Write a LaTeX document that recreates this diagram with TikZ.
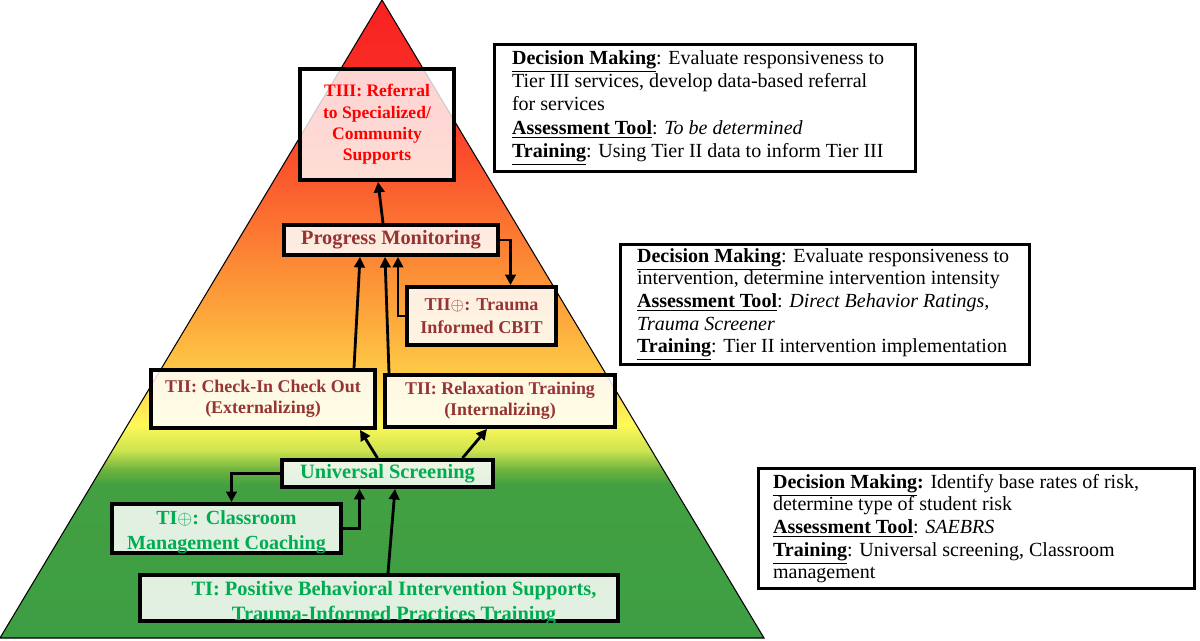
\documentclass[tikz,border=0pt]{standalone}
\usepackage{fontspec}
\setmainfont{Liberation Serif}
\usepackage{tikz}
\usetikzlibrary{arrows.meta,calc}

\definecolor{tiiired}{RGB}{255,0,0}
\definecolor{tiired}{RGB}{150,52,52}
\definecolor{tigreen}{RGB}{0,172,80}
\definecolor{pyrA}{RGB}{62,158,67}
\definecolor{pyrB}{RGB}{66,160,66}
\definecolor{pyrC}{RGB}{110,180,62}
\definecolor{pyrD}{RGB}{205,228,80}
\definecolor{pyrE}{RGB}{255,248,88}
\definecolor{pyrF}{RGB}{254,200,70}
\definecolor{pyrG}{RGB}{253,170,60}
\definecolor{pyrH}{RGB}{252,130,52}
\definecolor{pyrI}{RGB}{251,90,45}
\definecolor{pyrJ}{RGB}{250,50,40}
\definecolor{pyrK}{RGB}{248,32,32}

\pgfdeclareverticalshading{pyramid}{100bp}{color(0bp)=(pyrA); color(25bp)=(pyrA);
	color(37bp)=(pyrB); color(38.2bp)=(pyrC); color(39.7bp)=(pyrD); color(41.7bp)=(pyrE);
	color(46bp)=(pyrF); color(49.9bp)=(pyrG); color(55.4bp)=(pyrH); color(61bp)=(pyrI);
	color(67.2bp)=(pyrJ); color(75bp)=(pyrK); color(100bp)=(pyrK)}

\newcommand{\lbl}[1]{\underline{\textbf{#1}}}
% text block of a right box: width, indent, lines
\newcommand{\infotext}[3]{\begin{minipage}{#1}\leftskip=#2 #3\end{minipage}}
% text block of a tier box, pushed down a little: width, shift, lines
\newcommand{\tiertext}[3]{\begin{minipage}{#1}\centering #3\par\vspace*{#2}\end{minipage}}

\begin{document}
\begin{tikzpicture}[x=0.02cm,y=-0.02cm,
	tier/.style={draw=black,line width=2.2pt,fill=white,fill opacity=0.85,text opacity=1,inner sep=0pt,align=center,font=\bfseries},
	info/.style={draw=black,line width=1.7pt,fill=white,inner sep=0pt},
	arr/.style={line width=1.6pt,-{Triangle[length=6pt,width=6pt]}}]
	\useasboundingbox (0,0) rectangle (1200,640);
	% pyramid
	\coordinate (apex) at (382,0);
	\coordinate (bl) at (0,638);
	\coordinate (br) at (764,638);
	\shade[shading=pyramid] (apex) -- (bl) -- (br) -- cycle;
	\draw[line width=0.6pt] (apex) -- (bl) -- (br) -- cycle;

	% tier III
	\node[tier,fill opacity=0.8,minimum width=3.08cm,minimum height=2.22cm,text=tiiired,font=\bfseries\fontsize{10}{12.2}\selectfont] (tiii) at (377,124.5) {TIII: Referral\\to Specialized/\\Community\\Supports};

	% tier II
	\node[tier,minimum width=4.28cm,minimum height=0.6cm,text=tiired,font=\bfseries\fontsize{11.6}{13}\selectfont] (pm) at (391,240) {Progress Monitoring};
	\node[tier,minimum width=2.98cm,minimum height=1.16cm,text=tiired,font=\bfseries\fontsize{10.3}{12.8}\selectfont] (cbit) at (481.5,316) {TII$\oplus$: Trauma\\Informed CBIT};
	\node[tier,minimum width=4.48cm,minimum height=1.16cm,text=tiired,font=\bfseries\fontsize{10.2}{12}\selectfont] (cico) at (263,399) {TII: Check-In Check Out\\(Externalizing)};
	\node[tier,minimum width=4.6cm,minimum height=1.04cm,text=tiired,font=\bfseries\fontsize{10.2}{12}\selectfont] (relax) at (500,401) {TII: Relaxation Training\\(Internalizing)};

	% tier I
	\node[tier,minimum width=4.22cm,minimum height=0.54cm,text=tigreen,font=\bfseries\fontsize{11.6}{13}\selectfont] (us) at (387.5,473.5) {Universal Screening};
	\node[tier,minimum width=4.58cm,minimum height=0.98cm,text=tigreen,font=\bfseries\fontsize{11.4}{14.2}\selectfont] (cmc) at (226.5,528.5) {\tiertext{4.58cm}{-0.16cm}{TI$\oplus$: Classroom\\Management Coaching}};
	\node[tier,minimum width=9.56cm,minimum height=0.92cm,text=tigreen,font=\bfseries\fontsize{11.6}{14.2}\selectfont] (pbis) at (379,598) {\tiertext{9.56cm}{-0.2cm}{\leftskip=0.6cm plus 1fil TI: Positive Behavioral Intervention Supports,\\Trauma-Informed Practices Training}};

	% arrows
	\draw[arr] ($(pm.north)+(-8,0)$) -- ($(tiii.south)+(1,0)$);
	\draw[arr] (pm.east) -| ($(cbit.north)+(29,0)$);
	\draw[arr] (cbit.west) -| ($(pm.south)+(7,0)$);
	\draw[arr] ($(cico.north)+(91,0)$) -- ($(pm.south)+(-31,0)$);
	\draw[arr] ($(relax.north)+(-111,0)$) -- ($(pm.south)+(-6,0)$);
	\draw[arr] ($(us.north)+(-10,0)$) -- ($(cico.south)+(97,0)$);
	\draw[arr] ($(us.north)+(75,0)$) -- ($(relax.south)+(-13,0)$);
	\draw[arr] (us.west) -| ($(cmc.north)+(5,0)$);
	\draw[arr] (cmc.east) -| ($(us.south)+(-28,0)$);
	\draw[arr] ($(pbis.north)+(9,0)$) -- ($(us.south)+(7.5,0)$);

	% right
	\node[info,minimum width=8.42cm,minimum height=2.54cm,font=\fontsize{11.4}{13.3}\selectfont] (infoa) at (705,108) {\infotext{8.42cm}{0.35cm}{%
		\lbl{Decision Making}: Evaluate responsiveness to\\
		Tier III services, develop data-based referral\\
		for services\\
		\lbl{Assessment Tool}: \textit{To be determined}\\
		\lbl{Training}: Using Tier II data to inform Tier III}};
	\node[info,minimum width=8.18cm,minimum height=2.4cm,font=\fontsize{11.4}{12.9}\selectfont] (infob) at (825,304.5) {\infotext{8.18cm}{0.33cm}{%
		\lbl{Decision Making}: Evaluate responsiveness to\\
		intervention, determine intervention intensity\\
		\lbl{Assessment Tool}: \textit{Direct Behavior Ratings,}\\
		\textit{Trauma Screener}\\
		\lbl{Training}: Tier II intervention implementation}};
	\node[info,minimum width=8.72cm,minimum height=2.4cm,font=\fontsize{11.4}{12.9}\selectfont] (infoc) at (976.5,528.5) {\infotext{8.72cm}{0.29cm}{%
		\underline{\textbf{Decision Making}}\textbf{:} Identify base rates of risk,\\
		determine type of student risk\\
		\lbl{Assessment Tool}: \textit{SAEBRS}\\
		\lbl{Training}: Universal screening, Classroom\\
		management}};
\end{tikzpicture}
\end{document}
